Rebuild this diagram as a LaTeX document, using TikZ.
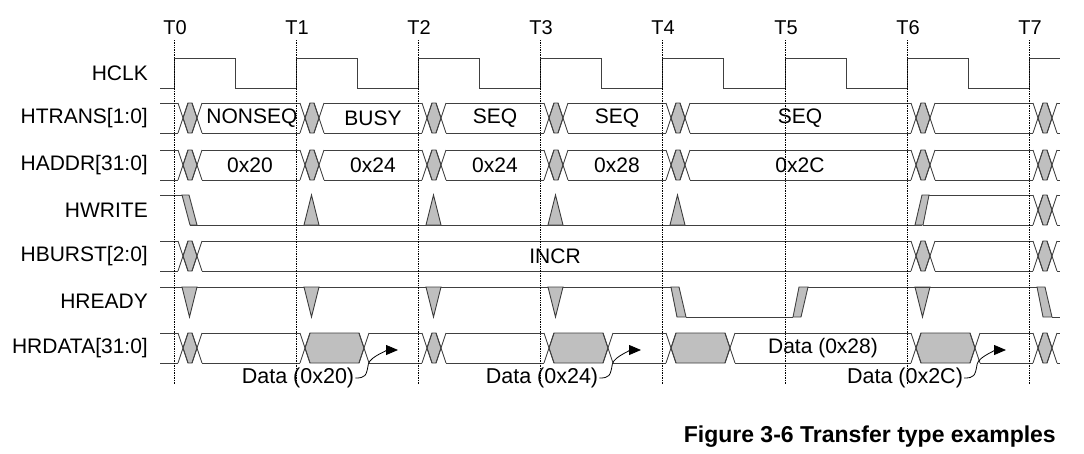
\documentclass[tikz,border=0pt]{standalone}
\usepackage{fontspec}
\setmainfont{Liberation Sans}
\usetikzlibrary{arrows.meta}
\begin{document}
\begin{tikzpicture}[x=1pt,y=-1pt,
  sig/.style={draw=black!75,line width=0.9pt},
  gfill/.style={fill=black!25},
  lbl/.style={anchor=east,font=\fontsize{21}{23}\selectfont,inner sep=0pt},
  val/.style={font=\fontsize{21}{23}\selectfont,inner sep=0pt},
  tl/.style={font=\fontsize{20}{22}\selectfont,inner sep=0pt},
  dl/.style={font=\fontsize{21.5}{23}\selectfont,inner sep=1pt},
  grid/.style={densely dotted,line width=0.7pt,black}]
\useasboundingbox (0,0) rectangle (1084,453);
\newcommand\trans[4]{%
  \fill[white] (#1,#3-1) rectangle (#2,#4+1);
  \path[sig,gfill] ({#1+5},{(#3+#4)/2}) -- ({#1+10},#3) -- ({#2-10},#3) -- ({#2-5},{(#3+#4)/2}) -- ({#2-10},#4) -- ({#1+10},#4) -- cycle;
  \draw[sig] (#1,#3)--({#1+10},#4) (#1,#4)--({#1+10},#3) ({#2-10},#3)--(#2,#4) ({#2-10},#4)--(#2,#3);}
% labels
\node[lbl] (l1) at (148,73) {HCLK};
\node[lbl] (l2) at (148,118) {HTRANS[1:0]};
\node[lbl] (l3) at (148,165) {HADDR[31:0]};
\node[lbl] (l4) at (148,210) {HWRITE};
\node[lbl] (l5) at (148,256) {HBURST[2:0]};
\node[lbl] (l6) at (148,301) {HREADY};
\node[lbl] (l7) at (148,348) {HRDATA[31:0]};
% clock
\draw[sig] (160,88) -- (174,88)
  \foreach \t in {174,296,418,540,662,785,907} { -- (\t,88) -- (\t,58) -- (\t+61,58) -- (\t+61,88) }
  -- (1029,88) -- (1029,58) -- (1060,58);
% HTRANS
\draw[sig] (160,103) -- (1060,103) (160,133) -- (1060,133);
\foreach \t in {174,296,418,540,662,907,1029} {\trans{\t+4}{\t+28}{103}{133}}
% HADDR
\draw[sig] (160,150) -- (1060,150) (160,180) -- (1060,180);
\foreach \t in {174,296,418,540,662,907,1029} {\trans{\t+4}{\t+28}{150}{180}}
% HBURST
\draw[sig] (160,241) -- (1060,241) (160,271) -- (1060,271);
\foreach \t in {174,907,1029} {\trans{\t+4}{\t+28}{241}{271}}
% HRDATA
\draw[sig] (160,333) -- (1060,333) (160,363) -- (1060,363);
\foreach \t in {174,418,1029} {\trans{\t+4}{\t+28}{333}{363}}
\foreach \t in {296,540,662,907} {\trans{\t+4}{\t+73}{333}{363}}
% HWRITE
\path[sig,gfill] (182,195) -- (189,195) -- (197,225) -- (190,225) -- cycle;
\draw[sig] (160,195) -- (182,195) (190,225) -- (922,225);
\foreach \t in {296,418,540,662} {\path[sig,gfill] (\t+8,225) -- (\t+15.5,195) -- (\t+23,225) -- cycle;}
\path[sig,gfill] (915,225) -- (922,195) -- (929,195) -- (923,225) -- cycle;
\draw[sig] (929,195) -- (1060,195) (923,225) -- (1033,225);
\trans{1033}{1057}{195}{225}
\draw[sig] (1057,195) -- (1060,195) (1057,225) -- (1060,225);
% HREADY
\draw[sig] (160,287) -- (671,287);
\foreach \t in {174,296,418,540,907} {\path[sig,gfill] (\t+8,287) -- (\t+15.5,317) -- (\t+23,287) -- cycle;}
\path[sig,gfill] (671,287) -- (679,287) -- (686,317) -- (677,317) -- cycle;
\draw[sig] (686,317) -- (793,317);
\path[sig,gfill] (793,317) -- (799,287) -- (808,287) -- (801,317) -- cycle;
\draw[sig] (808,287) -- (1037,287);
\path[sig,gfill] (1037,287) -- (1045,287) -- (1052,317) -- (1043,317) -- cycle;
\draw[sig] (1052,317) -- (1060,317);
% values
\node[val] (v1) at (252,118) {NONSEQ};
\node[val] (v2) at (373,118) {BUSY};
\node[val] (v3) at (495,118) {SEQ};
\node[val] (v4) at (617,118) {SEQ};
\node[val] (v5) at (800,118) {SEQ};
\node[val] (a1) at (250,165) {0x20};
\node[val] (a2) at (373,165) {0x24};
\node[val] (a3) at (495,165) {0x24};
\node[val] (a4) at (617,165) {0x28};
\node[val] (a5) at (800,165) {0x2C};
\node[val] (b1) at (555,256) {INCR};
\node[val] (d28) at (823,348) {Data (0x28)};
% grid
\foreach \t/\n in {174/0,296/1,418/2,540/3,662/4,785/5,907/6,1029/7} {
  \node[tl] (T\n) at (\t+1,28) {T\n};
  \draw[grid] (\t,40) -- (\t,385);}
% data labels
\node[dl] (d20) at (298,378) {Data (0x20)};
\node[dl] (d24) at (542,378) {Data (0x24)};
\node[dl] (d2C) at (905,378) {Data (0x2C)};
\coordinate (e20) at (398,350);
\coordinate (e24) at (641,350);
\coordinate (e2C) at (1006,350);
\foreach \d in {20,24,2C} {
  \draw[line width=0.8pt,-{Triangle[length=12pt,width=10pt]}] (d\d.east) .. controls +(10,0) and +(-2,12) .. ++(13,-14) .. controls +(2,-8) and +(-8,0) .. (e\d);}
\node[font=\bfseries\fontsize{23}{25}\selectfont,anchor=east,inner sep=0pt] (title) at (1056,437) {Figure 3-6 Transfer type examples};
\end{tikzpicture}
\end{document}
